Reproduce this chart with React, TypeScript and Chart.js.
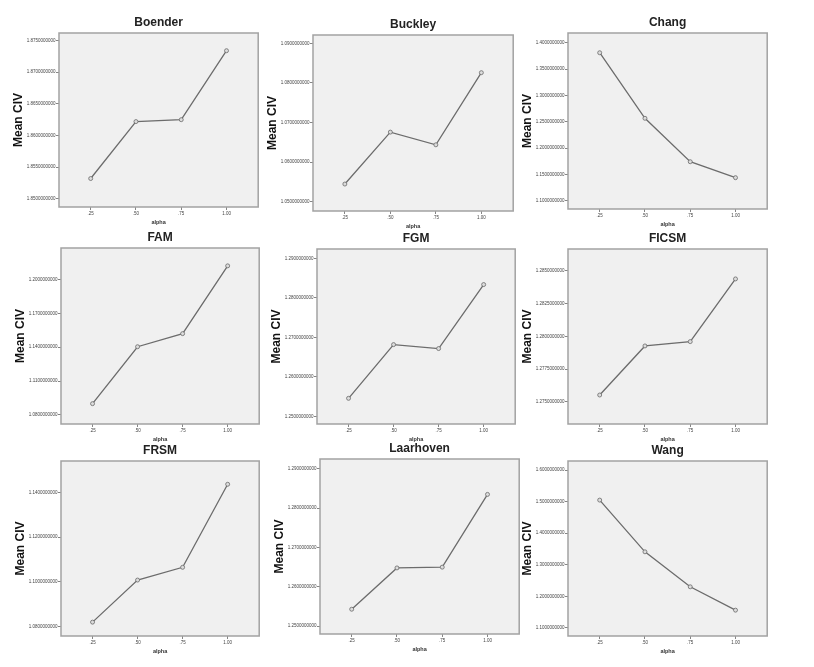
import React, { useEffect, useRef } from "react";
import { Chart, registerables } from "chart.js";

Chart.register(...registerables);

const FONT = "'Liberation Sans', Arial, Helvetica, sans-serif";

// x categories
const alphaValues = [0.25, 0.5, 0.75, 1.0];
const alphaLabels = [".25", ".50", ".75", "1.00"];

// series values (Mean CIV per alpha)
const boenderCIV = [1.8532, 1.8622, 1.8625, 1.8734];
const buckleyCIV = [1.0545, 1.0676, 1.0644, 1.0826];
const changCIV = [1.381, 1.2565, 1.174, 1.1437];
const famCIV = [1.09, 1.1404, 1.152, 1.212];
const fgmCIV = [1.2546, 1.2682, 1.2672, 1.2834];
const ficsmCIV = [1.27553, 1.27927, 1.2796, 1.28438];
const frsmCIV = [1.082, 1.1008, 1.1065, 1.1436];
const laarhovenCIV = [1.2543, 1.2648, 1.265, 1.2835];
const wangCIV = [1.505, 1.341, 1.23, 1.156];

// y tick values
const boenderTicks = [1.85, 1.855, 1.86, 1.865, 1.87, 1.875];
const buckleyTicks = [1.05, 1.06, 1.07, 1.08, 1.09];
const changTicks = [1.1, 1.15, 1.2, 1.25, 1.3, 1.35, 1.4];
const famTicks = [1.08, 1.11, 1.14, 1.17, 1.2];
const fgmTicks = [1.25, 1.26, 1.27, 1.28, 1.29];
const ficsmTicks = [1.275, 1.2775, 1.28, 1.2825, 1.285];
const frsmTicks = [1.08, 1.1, 1.12, 1.14];
const laarhovenTicks = [1.25, 1.26, 1.27, 1.28, 1.29];
const wangTicks = [1.1, 1.2, 1.3, 1.4, 1.5, 1.6];

// y ranges
const boenderRange = [1.8487, 1.8762];
const buckleyRange = [1.0477, 1.0921];
const changRange = [1.0842, 1.4185];
const famRange = [1.072, 1.2278];
const fgmRange = [1.2481, 1.2924];
const ficsmRange = [1.27332, 1.28666];
const frsmRange = [1.0758, 1.154];
const laarhovenRange = [1.248, 1.2925];
const wangRange = [1.074, 1.629];

type PanelDef = {
  name: string;
  values: number[];
  ticks: number[];
  range: number[];
  rect: [number, number, number, number]; // plot L, T, R, B
};

const panels: PanelDef[] = [
  { name: "Boender", values: boenderCIV, ticks: boenderTicks, range: boenderRange, rect: [59, 33, 261, 207] },
  { name: "Buckley", values: buckleyCIV, ticks: buckleyTicks, range: buckleyRange, rect: [313, 35, 516, 211] },
  { name: "Chang", values: changCIV, ticks: changTicks, range: changRange, rect: [568, 33, 770, 209] },
  { name: "FAM", values: famCIV, ticks: famTicks, range: famRange, rect: [61, 248, 262, 424] },
  { name: "FGM", values: fgmCIV, ticks: fgmTicks, range: fgmRange, rect: [317, 249, 518, 424] },
  { name: "FICSM", values: ficsmCIV, ticks: ficsmTicks, range: ficsmRange, rect: [568, 249, 770, 424] },
  { name: "FRSM", values: frsmCIV, ticks: frsmTicks, range: frsmRange, rect: [61, 461, 262, 636] },
  { name: "Laarhoven", values: laarhovenCIV, ticks: laarhovenTicks, range: laarhovenRange, rect: [320, 459, 522, 634] },
  { name: "Wang", values: wangCIV, ticks: wangTicks, range: wangRange, rect: [568, 461, 770, 636] },
];

const Y_AXIS_W = 50;
const TITLE_H = 22;
const X_AXIS_H = 22;
const RIGHT_PAD = 2;

const framePlugin = {
  id: "frame",
  beforeDatasetsDraw(chart: any) {
    const { ctx, chartArea } = chart;
    ctx.save();
    ctx.fillStyle = "#f0f0f0";
    ctx.fillRect(chartArea.left, chartArea.top, chartArea.right - chartArea.left, chartArea.bottom - chartArea.top);
    ctx.restore();
  },
  afterDatasetsDraw(chart: any) {
    const { ctx, chartArea } = chart;
    ctx.save();
    ctx.strokeStyle = "#a2a2a2";
    ctx.lineWidth = 1.5;
    ctx.strokeRect(chartArea.left, chartArea.top, chartArea.right - chartArea.left, chartArea.bottom - chartArea.top);
    ctx.restore();
  },
};

function Panel({ p }: { p: PanelDef }) {
  const ref = useRef<HTMLCanvasElement | null>(null);
  const [L, T, R, B] = p.rect;
  const w = R - L + Y_AXIS_W + RIGHT_PAD;
  const h = B - T + TITLE_H + X_AXIS_H;

  useEffect(() => {
    if (!ref.current) return;
    const chart = new Chart(ref.current, {
      type: "line",
      data: {
        datasets: [
          {
            data: alphaValues.map((x, i) => ({ x, y: p.values[i] })),
            borderColor: "#6c6c6c",
            borderWidth: 1.3,
            pointRadius: 2,
            pointBorderWidth: 0.8,
            pointBorderColor: "#6a6a6a",
            pointBackgroundColor: "#dcdcdc",
            tension: 0,
          },
        ],
      },
      options: {
        responsive: false,
        animation: false,
        maintainAspectRatio: false,
        layout: { padding: { left: 0, right: RIGHT_PAD, top: 0, bottom: 0 } },
        plugins: {
          legend: { display: false },
          tooltip: { enabled: false },
          title: {
            display: true,
            fullSize: false,
            text: p.name,
            color: "#222",
            font: { family: FONT, size: 12, weight: "bold", lineHeight: 1.2 },
            padding: { top: 4.8, bottom: 2.8 },
          },
        },
        scales: {
          x: {
            type: "linear",
            min: 0.075,
            max: 1.175,
            afterBuildTicks: (s: any) => {
              s.ticks = alphaValues.map((v) => ({ value: v }));
            },
            afterFit: (s: any) => {
              s.height = X_AXIS_H;
            },
            border: { display: false },
            grid: { drawOnChartArea: false, drawTicks: true, tickLength: 3, color: "#666", lineWidth: 0.8 },
            ticks: {
              autoSkip: false,
              maxRotation: 0,
              padding: 1,
              color: "#444",
              font: { family: FONT, size: 4.5 },
              callback: (v: any) => {
                const i = alphaValues.indexOf(Number(v));
                return i >= 0 ? alphaLabels[i] : "";
              },
            },
            title: {
              display: true,
              text: "alpha",
              color: "#333",
              font: { family: FONT, size: 5.5, weight: "bold", lineHeight: 1.2 },
              padding: { top: 0, bottom: 3.7 },
            },
          },
          y: {
            type: "linear",
            min: p.range[0],
            max: p.range[1],
            afterBuildTicks: (s: any) => {
              s.ticks = p.ticks.map((v) => ({ value: v }));
            },
            afterFit: (s: any) => {
              s.width = Y_AXIS_W;
            },
            border: { display: false },
            grid: { drawOnChartArea: false, drawTicks: true, tickLength: 3, color: "#666", lineWidth: 0.8 },
            ticks: {
              autoSkip: false,
              padding: 0.5,
              color: "#444",
              font: { family: FONT, size: 4.5 },
              callback: (v: any) => Number(v).toFixed(10),
            },
            title: {
              display: true,
              text: "Mean CIV",
              color: "#111",
              font: { family: FONT, size: 12, weight: "bold", lineHeight: 1.2 },
              padding: { top: 2, bottom: 0 },
            },
          },
        },
      } as any,
      plugins: [framePlugin],
    });
    return () => chart.destroy();
  }, [p]);

  return (
    <canvas
      ref={ref}
      width={w}
      height={h}
      style={{ position: "absolute", left: L - Y_AXIS_W, top: T - TITLE_H, width: w, height: h }}
    />
  );
}

export default function App() {
  return (
    <div style={{ position: "absolute", left: 0, top: 0, width: 814, height: 667, background: "#fff", overflow: "hidden" }}>
      {panels.map((p) => (
        <Panel key={p.name} p={p} />
      ))}
    </div>
  );
}
